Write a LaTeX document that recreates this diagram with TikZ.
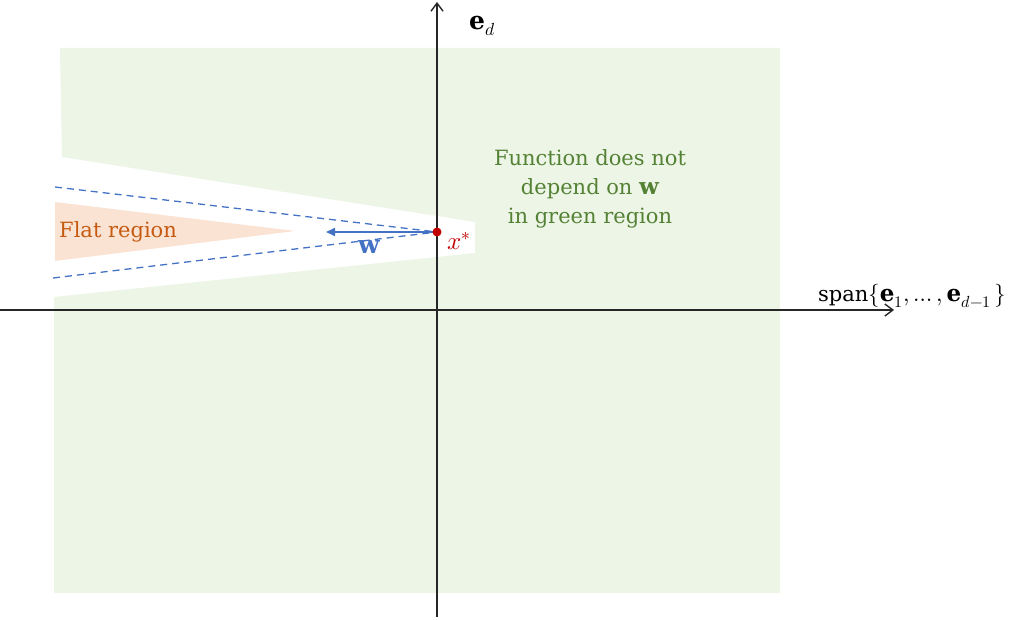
\documentclass[tikz,border=0pt]{standalone}
\usepackage{fontspec}
\usepackage{unicode-math}
\setmainfont{DejaVu Serif}
\setmathfont{Latin Modern Math}
\usetikzlibrary{arrows.meta}
\definecolor{gfill}{HTML}{EDF5E6}
\definecolor{ofill}{HTML}{FBE3D4}
\definecolor{otext}{HTML}{C55A11}
\definecolor{gtext}{HTML}{548235}
\definecolor{wblue}{HTML}{4472C4}
\definecolor{xred}{HTML}{C00000}
\begin{document}
\begin{tikzpicture}[x=1pt,y=-1pt,
  axis/.style={line width=1.4pt,black!85,-{Straight Barb[length=8pt,width=12pt,line width=1.4pt]}},
  dashln/.style={wblue,line width=1.3pt,dash pattern=on 7pt off 5pt},
  warrow/.style={wblue,line width=2pt,-{Triangle[length=9pt,width=8pt]}},
  lbl/.style={font=\fontsize{21}{29}\selectfont,inner sep=0pt},
  mlbl/.style={font=\fontsize{25}{29}\selectfont,inner sep=0pt}]
\useasboundingbox (0,0) rectangle (1012,620);
\fill[gfill] (60,48) -- (780,48) -- (780,593) -- (54,593) -- (54,297) -- (475,253) -- (475,222) -- (62,157) -- cycle;
\fill[ofill] (55,202) -- (295,231) -- (55,261) -- cycle;
\coordinate (xs) at (437,232);
\coordinate (du) at (55,187);
\coordinate (dl) at (53,278);
\draw[dashln] (du) -- (xs);
\draw[dashln] (dl) -- (xs);
\coordinate (xl) at (0,310);
\coordinate (xr) at (894,310);
\coordinate (yb) at (437,617);
\coordinate (yt) at (437,2);
\draw[axis] (xl) -- (xr);
\draw[axis] (yb) -- (yt);
\coordinate (wend) at (326,232);
\draw[warrow] (xs) -- (wend);
\fill[xred] (xs) circle (4.5);
\node[mlbl,text=xred] (xlab) at (459,241) {$x^{*}$};
\node[mlbl,text=wblue] (wlab) at (369,247) {$\mathbf{w}$};
\node[lbl,text=otext,anchor=west] (flat) at (59,232) {Flat region};
\node[mlbl,anchor=west] (ed) at (469,26) {$\mathbf{e}_{d}$};
\node[lbl,anchor=west] (span) at (818,296) {span{\fontsize{23}{29}\selectfont$\{\mathbf{e}_1,\ldots,\mathbf{e}_{d-1}\,\}$}};
\node[lbl,text=gtext,align=center] (func) at (590,189) {Function does not\\depend on {\fontsize{23}{29}\selectfont$\mathbf{w}$}\\in green region};
\end{tikzpicture}
\end{document}
